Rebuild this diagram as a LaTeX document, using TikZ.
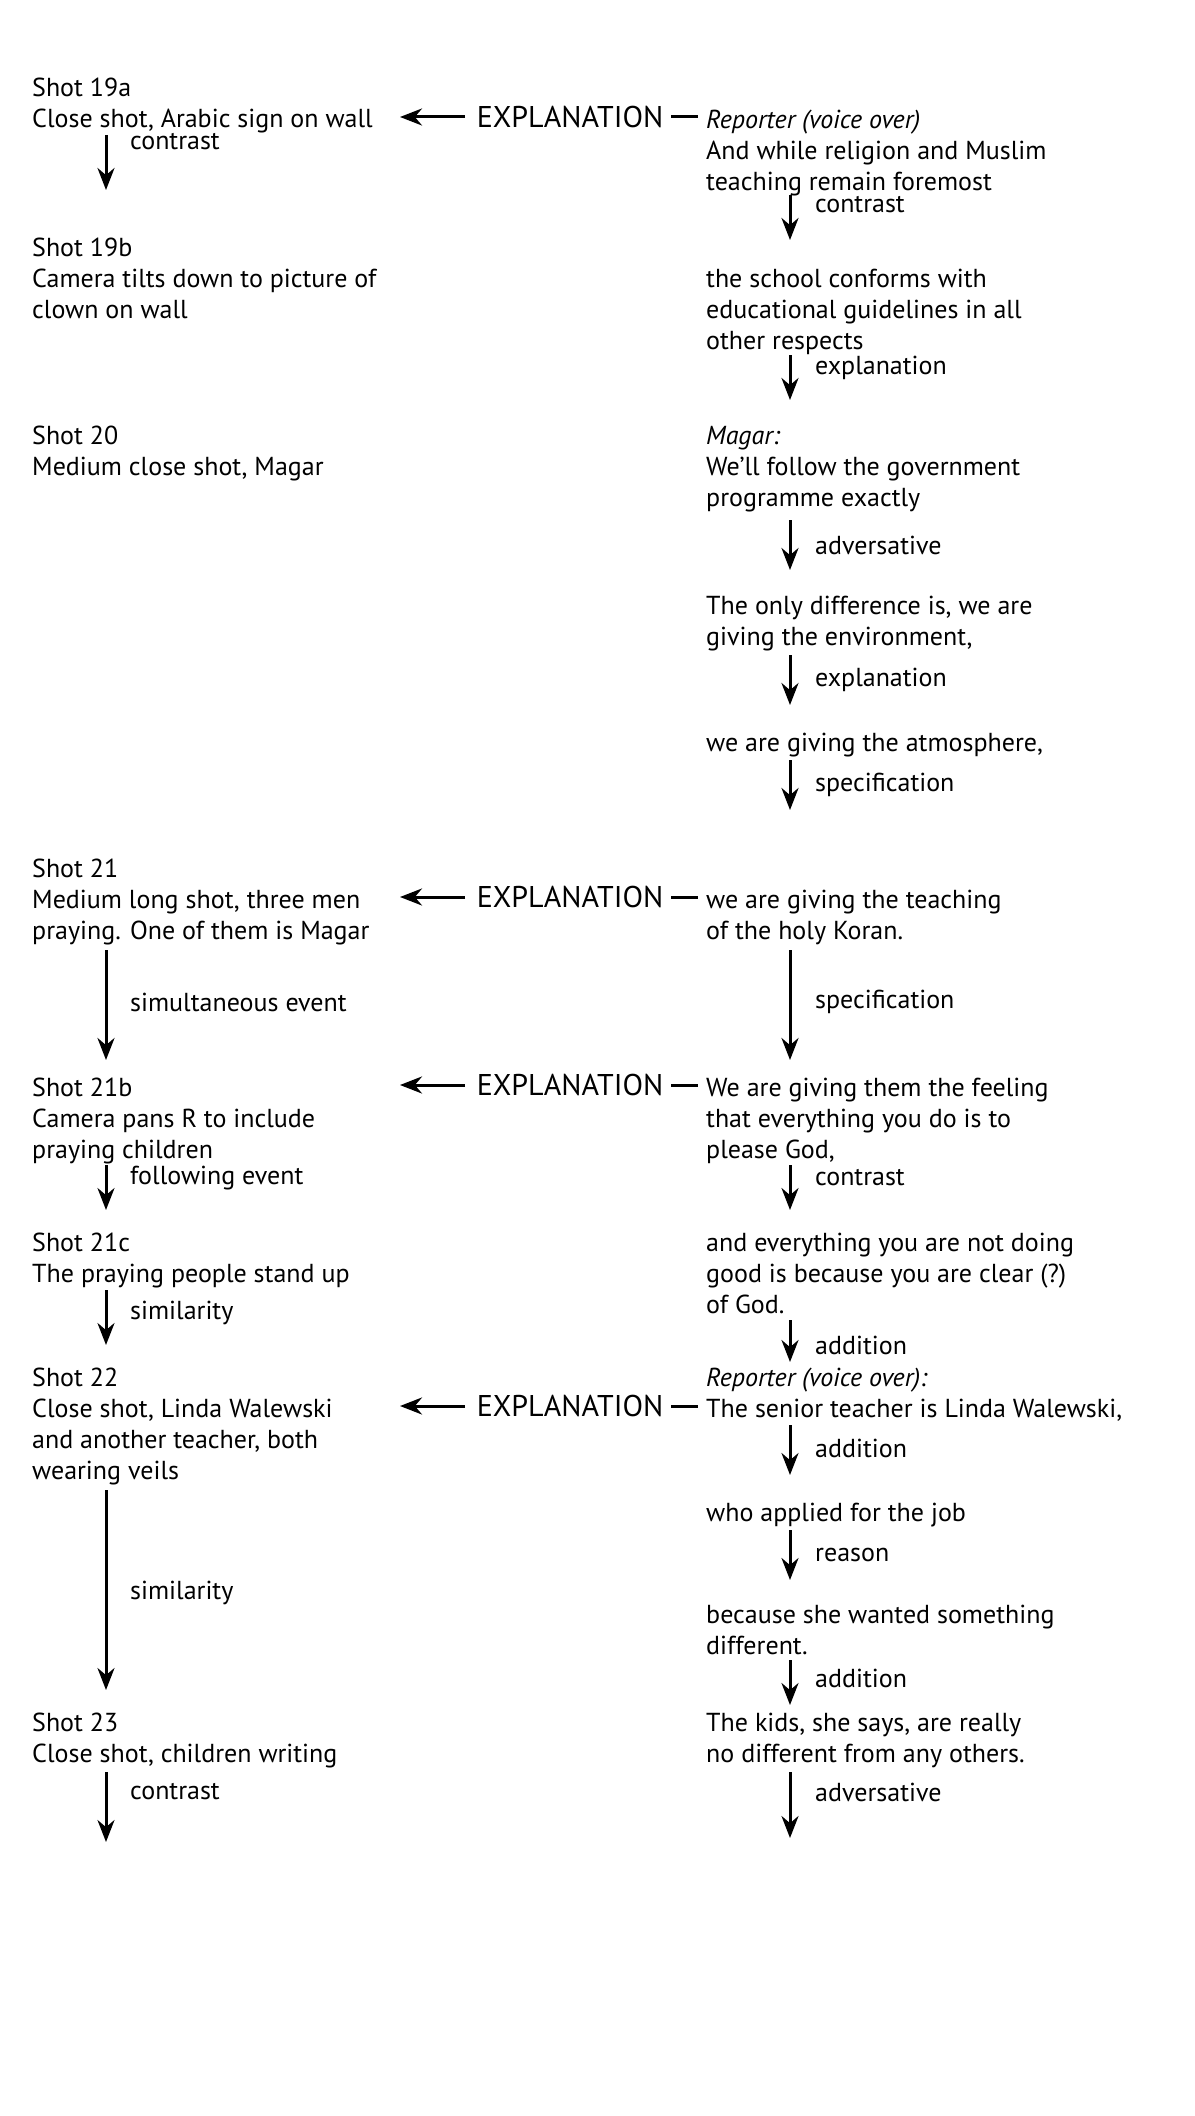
\documentclass[tikz,border=0pt]{standalone}
\usepackage{fontspec}
\setmainfont{PT Sans}
\usetikzlibrary{arrows.meta}
\begin{document}
\begin{tikzpicture}[x=1pt,y=-1pt,
  txt/.style={anchor=north west,inner sep=0pt,align=left,font=\fontsize{26}{31}\selectfont},
  lab/.style={anchor=west,inner sep=0pt,font=\fontsize{26}{28}\selectfont},
  expl/.style={anchor=center,inner sep=0pt,font=\fontsize{30}{32}\selectfont},
  arr/.style={line width=3pt,-{Stealth[length=22pt,width=17pt]}},
  dashline/.style={line width=3pt}]
\useasboundingbox (0,0) rectangle (1194,2116);
\fill[white] (0,0) rectangle (1194,2116);
% left column
\node[txt] (s19a) at (32,78) {Shot 19a\\Close shot, Arabic sign on wall};
\node[txt] (s19b) at (32,238) {Shot 19b\\Camera tilts down to picture of\\clown on wall};
\node[txt] (s20) at (32,426) {Shot 20\\Medium close shot, Magar};
\node[txt] (s21) at (32,859) {Shot 21\\Medium long shot, three men\\praying. One of them is Magar};
\node[txt] (s21b) at (32,1078) {Shot 21b\\Camera pans R to include\\praying children};
\node[txt] (s21c) at (32,1233) {Shot 21c\\The praying people stand up};
\node[txt] (s22) at (32,1368) {Shot 22\\Close shot, Linda Walewski\\and another teacher, both\\wearing veils};
\node[txt] (s23) at (32,1713) {Shot 23\\Close shot, children writing};
% right column
\node[txt] (r1) at (706,110) {\textit{Reporter (voice over)}\\And while religion and Muslim\\teaching remain foremost};
\node[txt] (r2) at (706,269) {the school conforms with\\educational guidelines in all\\other respects};
\node[txt] (r3) at (706,426) {\textit{Magar:}\\We’ll follow the government\\programme exactly};
\node[txt] (r4) at (706,596) {The only difference is, we are\\giving the environment,};
\node[txt] (r5) at (706,733) {we are giving the atmosphere,};
\node[txt] (r6) at (706,890) {we are giving the teaching\\of the holy Koran.};
\node[txt] (r7) at (706,1078) {We are giving them the feeling\\that everything you do is to\\please God,};
\node[txt] (r8) at (706,1233) {and everything you are not doing\\good is because you are clear (?)\\of God.};
\node[txt] (r9) at (706,1368) {\textit{Reporter (voice over):}\\The senior teacher is Linda Walewski,};
\node[txt] (r10) at (706,1503) {who applied for the job};
\node[txt] (r11) at (706,1605) {because she wanted something\\different.};
\node[txt] (r12) at (706,1713) {The kids, she says, are really\\no different from any others.};
% left arrows
\foreach \n/\a/\b/\l/\ly in {a/135/190/contrast/142,b/950/1060/simultaneous event/1002,c/1165/1210/following event/1178,d/1290/1345/similarity/1313,e/1490/1690/similarity/1593,f/1772/1842/contrast/1792}{
  \coordinate (la\n) at (106,\a); \coordinate (lb\n) at (106,\b);
  \draw[arr] (la\n) -- (lb\n);
  \node[lab] (ll\n) at (130,\ly) {\l};}
% right arrows
\foreach \n/\a/\b/\l/\ly in {a/195/240/contrast/205,b/355/400/explanation/368,c/520/570/adversative/545,d/655/705/explanation/680,e/760/810/specification/785,f/950/1060/specification/1002,g/1165/1210/contrast/1178,h/1320/1362/addition/1345,i/1425/1475/addition/1448,j/1530/1580/reason/1555,k/1660/1705/addition/1678,l/1772/1838/adversative/1792}{
  \coordinate (ra\n) at (790,\a); \coordinate (rb\n) at (790,\b);
  \draw[arr] (ra\n) -- (rb\n);
  \node[lab] (rl\n) at (815,\ly) {\l};}
% explanations
\foreach \n/\y in {a/117,b/897,c/1085,d/1406}{
  \node[expl] (e\n) at (570,\y) {EXPLANATION};
  \coordinate (et\n) at (400,\y); \coordinate (es\n) at (465,\y);
  \coordinate (dl\n) at (671,\y); \coordinate (dr\n) at (698,\y);
  \draw[arr] (es\n) -- (et\n);
  \draw[dashline] (dl\n) -- (dr\n);}
\end{tikzpicture}
\end{document}
